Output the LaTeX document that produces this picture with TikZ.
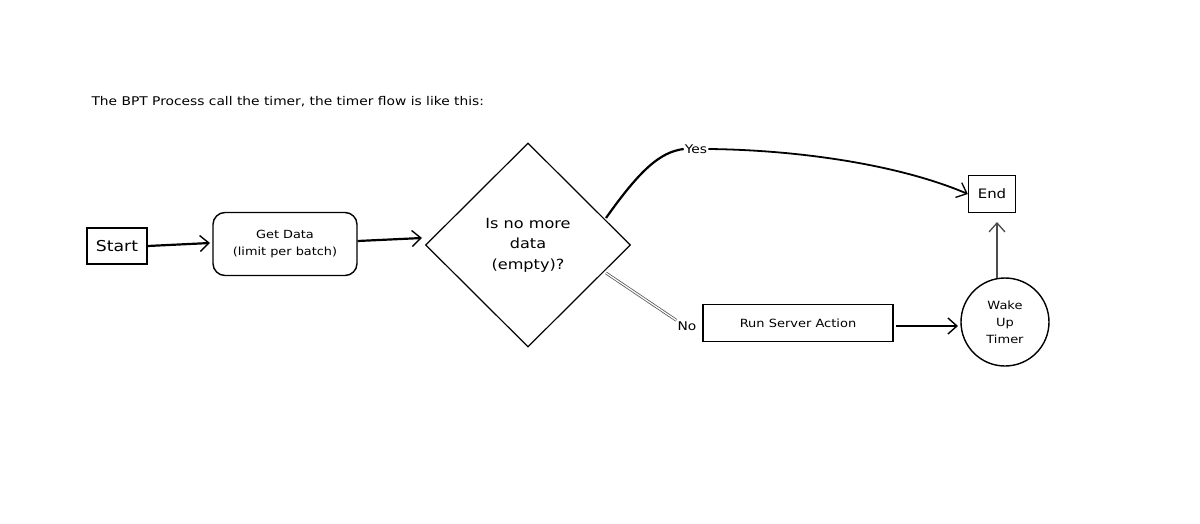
\documentclass[tikz,border=0pt]{standalone}
\usepackage{fontspec}
\setmainfont[FakeStretch=1.15]{DejaVu Sans}
\usetikzlibrary{arrows.meta,shapes.geometric}
\begin{document}
\begin{tikzpicture}[x=1pt,y=-1pt,
  txt/.style={font=\fontsize{12}{14}\selectfont, text=black},
  sbox/.style={draw=black, line width=1.4pt, fill=white, inner sep=0pt},
  conn/.style={line width=2.2pt, -{Straight Barb[length=9pt,width=16pt,line width=1.4pt]}},
  thinconn/.style={line width=1.8pt, -{Straight Barb[length=9pt,width=16pt,line width=1.3pt]}}
]
\useasboundingbox[fill=white] (0,0) rectangle (1200,524);

\node[txt, anchor=west, font=\fontsize{12}{14}\selectfont] (title) at (88,102) {The BPT Process call the timer, the timer flow is like this:};

\node[sbox, txt, minimum width=60pt, minimum height=36pt, font=\fontsize{15}{16}\selectfont] (start) at (117,246) {Start};
\node[sbox, txt, rounded corners=12pt, minimum width=144pt, minimum height=63pt, align=center, font=\fontsize{11.2}{17}\selectfont] (get) at (285,244) {Get Data\\(limit per batch)};
\node[sbox, diamond, minimum width=205pt, minimum height=204pt, line width=1.2pt] (dec) at (528,245) {};
\node[txt, align=center, font=\fontsize{14}{20.5}\selectfont] (dectext) at (528,245) {Is no more\\data\\(empty)?};
\node[sbox, txt, minimum width=47pt, minimum height=37pt, font=\fontsize{13}{15}\selectfont] (end) at (992,194) {End};
\node[sbox, txt, minimum width=190pt, minimum height=37pt, font=\fontsize{11.3}{13}\selectfont] (run) at (798,323) {Run Server Action};
\node[sbox, circle, minimum size=88pt, align=center, font=\fontsize{11.3}{17}\selectfont] (wake) at (1005,322) {Wake\\Up\\Timer};

\draw[conn] (start.east) -- (210,243) coordinate (a1);
\draw[conn] (get.east) ++(0,-3) -- (422,238) coordinate (a2);

\coordinate (ys) at (606,218);
\node[txt, inner sep=1pt, font=\fontsize{12}{13}\selectfont] (yes) at (696,149) {Yes};
\draw[line width=2.2pt] (ys) .. controls (640,170) and (660,152) .. (yes.west);
\draw[thinconn] (yes.east) .. controls (800,150) and (900,165) .. (end.west);

\coordinate (ns) at (606,273);
\node[txt, inner sep=1pt, font=\fontsize{12}{13}\selectfont] (no) at (687,326) {No};
\draw[double=white, draw=gray!70!black, double distance=1.2pt, line width=0.8pt] (ns) -- (no.north west);

\draw[conn] (run.east) ++(2,3) -- (958,326) coordinate (a3);
\draw[thinconn, draw=gray!60!black] (wake.north) ++(-8,1) -- (997,222) coordinate (a4);
\end{tikzpicture}
\end{document}
